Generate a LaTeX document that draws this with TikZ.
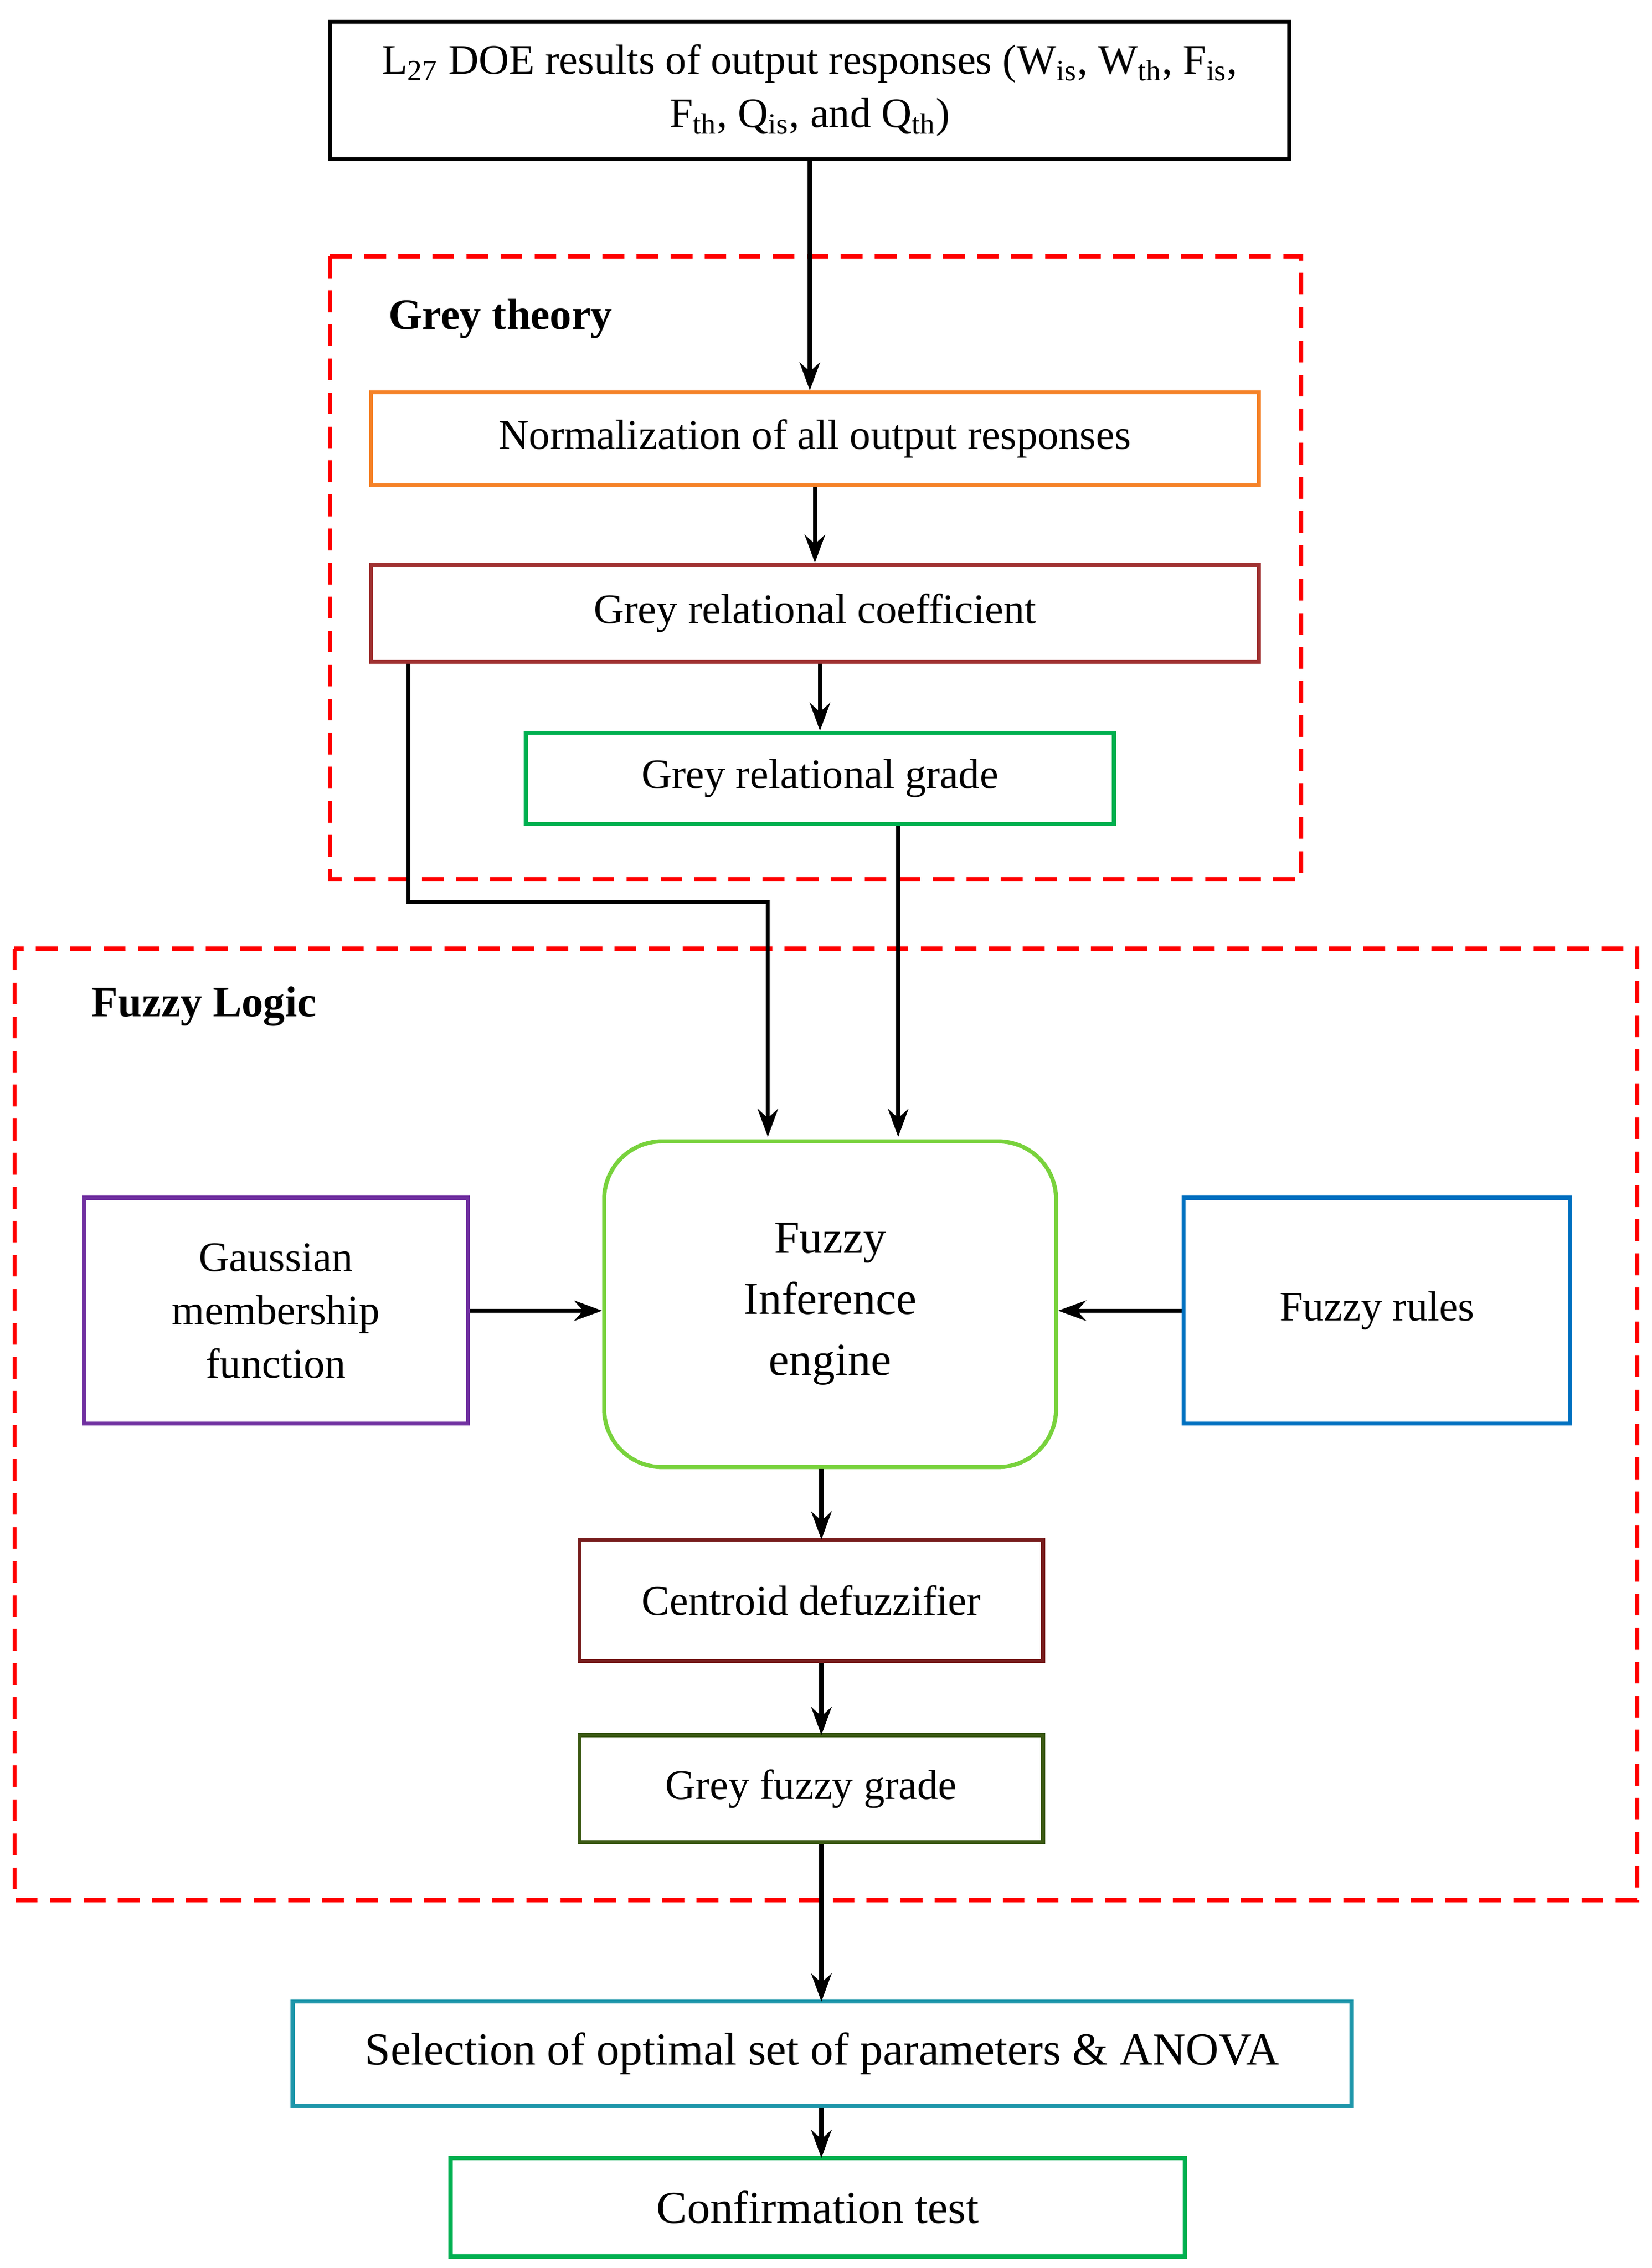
\documentclass[tikz,border=0pt]{standalone}
\usepackage{fontspec}
\setmainfont{Liberation Serif}
\usetikzlibrary{arrows.meta}
\definecolor{corange}{RGB}{245,130,40}
\definecolor{cbrown}{RGB}{160,50,50}
\definecolor{cgreen}{RGB}{0,176,80}
\definecolor{clgreen}{RGB}{120,210,60}
\definecolor{cpurple}{RGB}{112,48,160}
\definecolor{cblue}{RGB}{0,112,192}
\definecolor{cdred}{RGB}{120,30,30}
\definecolor{cdgreen}{RGB}{60,90,20}
\definecolor{cteal}{RGB}{30,150,170}
\begin{document}
\begin{tikzpicture}[x={(0.02cm,0)},y={(0,-0.02cm)},
 box/.style={draw=#1,line width=1.6pt,inner sep=2pt,align=center,font=\fontsize{16.5}{21}\selectfont},
 arr/.style={line width=1.6pt,-{Stealth[length=11pt,width=8pt]}},
 zone/.style={draw=red,line width=1.6pt,dash pattern=on 0.3cm off 0.17cm},
 lbl/.style={font=\fontsize{17}{20}\selectfont\bfseries,anchor=west}]
\useasboundingbox (0,0) rectangle (1140,1566);
\draw[zone] (228,177) rectangle (898,607);
\draw[zone] (10,655) rectangle (1130,1312);
\node[lbl] (gt) at (262,220) {Grey theory};
\node[lbl] (fl) at (57,695) {Fuzzy Logic};
\node[box=black,minimum width=13.24cm,minimum height=1.9cm] (top) at (559,62.5)
 {L\textsubscript{27} DOE results of output responses (W\textsubscript{is}, W\textsubscript{th}, F\textsubscript{is},\\F\textsubscript{th}, Q\textsubscript{is}, and Q\textsubscript{th})};
\node[box=corange,minimum width=12.26cm,minimum height=1.28cm] (norm) at (562.5,303) {Normalization of all output responses};
\node[box=cbrown,minimum width=12.26cm,minimum height=1.34cm] (coef) at (562.5,423.5) {Grey relational coefficient};
\node[box=cgreen,minimum width=8.12cm,minimum height=1.26cm] (grade) at (566,537.5) {Grey relational grade};
\node[box=clgreen,rounded corners=0.8cm,minimum width=6.24cm,minimum height=4.5cm,font=\fontsize{18}{24}\selectfont] (inf) at (573,900.5) {Fuzzy\\Inference\\engine};
\node[box=cpurple,minimum width=5.3cm,minimum height=3.12cm] (gauss) at (190.5,905) {Gaussian\\membership\\function};
\node[box=cblue,minimum width=5.34cm,minimum height=3.12cm] (rules) at (950.5,905) {Fuzzy rules};
\node[box=cdred,minimum width=6.4cm,minimum height=1.68cm] (cent) at (560,1105) {Centroid defuzzifier};
\node[box=cdgreen,minimum width=6.4cm,minimum height=1.48cm] (fgrade) at (560,1235) {Grey fuzzy grade};
\node[box=cteal,minimum width=14.62cm,minimum height=1.44cm,font=\fontsize{18}{21}\selectfont] (sel) at (567.5,1418) {Selection of optimal set of parameters \& ANOVA};
\node[box=cgreen,minimum width=10.14cm,minimum height=1.36cm,font=\fontsize{18}{21}\selectfont] (conf) at (564.5,1524) {Confirmation test};
\draw[arr] (top.south) -- (top.south |- norm.north);
\draw[arr] (norm.south) -- (coef.north);
\draw[arr] (coef.south -| grade.north) -- (grade.north);
\coordinate (c1) at (282,623);
\draw[arr] (coef.south -| c1) -- (c1) -- (530,623) -- (530,785);
\draw[arr] (grade.south -| 620,0) -- (620,785);
\draw[arr] (gauss.east) -- (inf.west |- gauss.east);
\draw[arr] (rules.west) -- (inf.east |- rules.west);
\draw[arr] (inf.south -| 567,0) -- (567,1063);
\draw[arr] (cent.south -| 567,0) -- (567,1198);
\draw[arr] (fgrade.south -| 567,0) -- (567,1382);
\draw[arr] (sel.south -| 567,0) -- (567,1490);
\end{tikzpicture}
\end{document}
